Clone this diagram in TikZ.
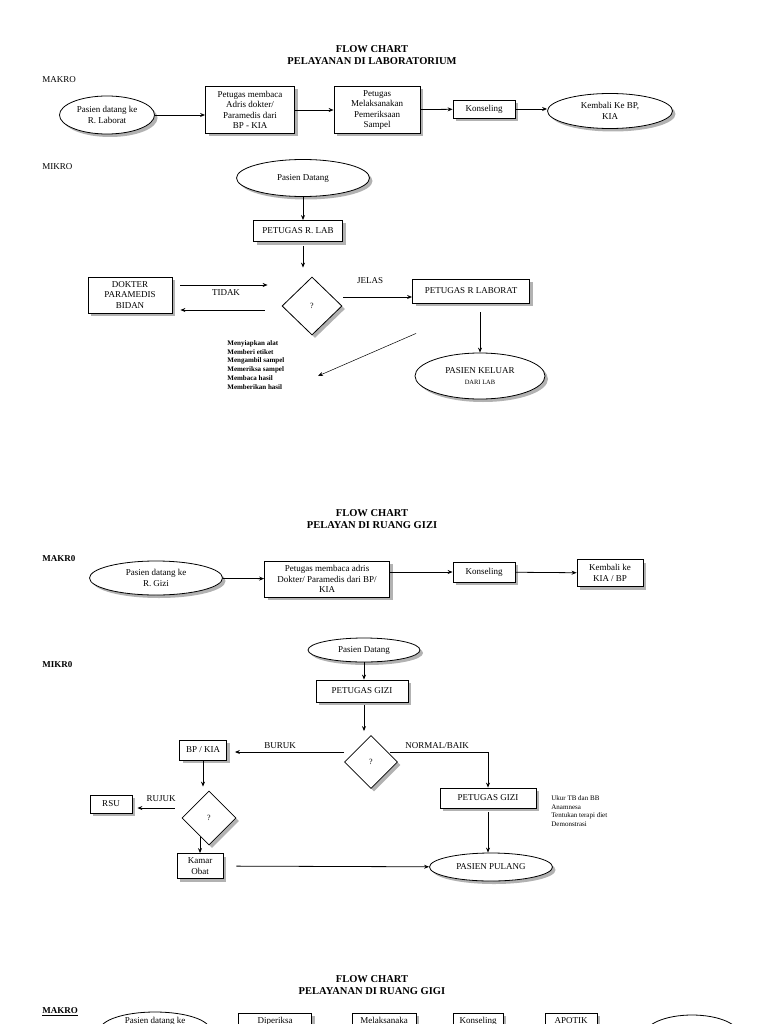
\documentclass[tikz,border=0pt]{standalone}
\usepackage{fontspec}
\setmainfont{Liberation Serif}
\usepackage{tikz}
\usetikzlibrary{shapes.geometric,shadows,arrows.meta,calc}

\newcommand{\boxfont}{\fontsize{9}{10.3}\selectfont}
\newcommand{\headfont}{\fontsize{10.5}{12}\selectfont\bfseries}
\newcommand{\notefont}{\fontsize{7}{8.8}\selectfont}

\tikzset{
  procbox/.style={draw, rectangle, fill=white, align=center, font=\boxfont, inner sep=1pt,
    drop shadow={shadow xshift=3pt, shadow yshift=-3pt, fill=black!30, opacity=1}},
  termbox/.style={draw, ellipse, fill=white, align=center, font=\boxfont, inner sep=0pt,
    drop shadow={shadow xshift=3pt, shadow yshift=-3pt, fill=black!30, opacity=1}},
  decbox/.style={draw, diamond, fill=white, inner sep=0pt, font=\fontsize{8}{8}\selectfont,
    drop shadow={shadow xshift=3pt, shadow yshift=-3pt, fill=black!30, opacity=1}},
  head/.style={align=center, font=\headfont, inner sep=0pt},
  txt/.style={font=\boxfont, inner sep=0pt},
  flow/.style={-{Stealth[length=5pt,width=4pt]}},
}

\begin{document}
\begin{tikzpicture}[x=1pt,y=-1pt,line width=0.8pt]
        \useasboundingbox (0,0) rectangle (768,1024);
        \clip (0,0) rectangle (768,1024);

        % Laboratorium: makro
        \node[head] (labTitle) at (372,55) {FLOW CHART\\PELAYANAN DI LABORATORIUM};
        \node[txt, anchor=west] (labMakro) at (42,80) {MAKRO};
        \node[termbox, minimum width=95pt, minimum height=38pt] (labDatang) at (107,115) {Pasien datang ke\\R. Laborat};
        \node[procbox, minimum width=89pt, minimum height=47pt] (labAdris) at (250,110) {Petugas membaca\\Adris dokter/\\Paramedis dari\\BP - KIA};
        \node[procbox, minimum width=86pt, minimum height=47pt] (labPeriksa) at (377,110) {Petugas\\Melaksanakan\\Pemeriksaan\\Sampel};
        \node[procbox, minimum width=62pt, minimum height=18pt] (labKonsel) at (484,109) {Konseling};
        \node[termbox, minimum width=125pt, minimum height=35pt] (labKembali) at (610,111) {Kembali Ke BP,\\KIA};

        \draw[flow] (labDatang.east) -- (labDatang.east -| labAdris.west);
        \draw[flow] (labAdris) -- (labPeriksa);
        \draw[flow] (labPeriksa) -- (labKonsel);
        \draw[flow] (labKonsel.east) -- (labKonsel.east -| labKembali.west);

        % Laboratorium: mikro
        \node[txt, anchor=west] (labMikro) at (42,167) {MIKRO};
        \node[termbox, minimum width=133pt, minimum height=37pt] (labPasien) at (303,178) {Pasien Datang};
        \node[procbox, minimum width=89pt, minimum height=21pt] (labPetugas) at (298,231) {PETUGAS R. LAB};
        \node[decbox, minimum width=60pt, minimum height=58pt] (labCek) at (312,306) {?};
        \node[procbox, minimum width=117pt, minimum height=24pt] (labLaborat) at (471,291) {PETUGAS R LABORAT};
        \node[termbox, minimum width=130pt, minimum height=46pt] (labKeluar) at (480,376) {PASIEN KELUAR\\{\fontsize{6.5}{8}\selectfont DARI LAB}};
        \node[procbox, minimum width=84pt, minimum height=36pt] (labDokter) at (130,295) {DOKTER\\PARAMEDIS\\BIDAN};
        \node[txt, font=\notefont\bfseries, align=left, anchor=north west] (labTugas) at (227,340) {Menyiapkan alat\\Memberi etiket\\Mengambil sampel\\Memeriksa sampel\\Membaca hasil\\Memberikan hasil};
        \node[txt] (labJelas) at (370,281) {JELAS};
        \node[txt] (labTidak) at (226,293) {TIDAK};

        \draw[flow] (labPasien.south) -- (labPasien.south |- labPetugas.north);
        \draw[flow, shorten <=4pt, shorten >=9pt] (labPetugas.south -| labPasien) -- (labCek.north -| labPasien);
        \coordinate (jelasA) at ($(labCek.east)+(1,-9)$);
        \draw[flow] (jelasA) -- (jelasA -| labLaborat.west);
        \draw[flow, shorten <=9pt] (labLaborat.south -| labKeluar) -- (labKeluar.north);
        \coordinate (tidakA) at ($(labDokter.east)+(8,-10)$);
        \coordinate (tidakB) at ($(labCek.west)+(-14,-21)$);
        \coordinate (tidakC) at ($(labCek.west)+(-17,4)$);
        \draw[flow] (tidakA) -- (tidakA -| tidakB);
        \draw[flow] (tidakC) -- (tidakC -| tidakA);
        \coordinate (tugasA) at ($(labLaborat.south west)+(4,30)$);
        \coordinate (tugasB) at (318,376);
        \draw[flow, line width=0.5pt] (tugasA) -- (tugasB);

        % Ruang gizi: makro
        \node[head] (giziTitle) at (372,519.5) {FLOW CHART\\PELAYAN DI RUANG GIZI};
        \node[txt, anchor=west, font=\boxfont\bfseries] (giziMakro) at (42,559) {MAKR0};
        \node[termbox, minimum width=133pt, minimum height=34pt] (giziDatang) at (156,578) {Pasien datang ke\\R. Gizi};
        \node[procbox, minimum width=125pt, minimum height=36pt] (giziAdris) at (327,579) {Petugas membaca adris\\Dokter/ Paramedis dari BP/\\KIA};
        \node[procbox, minimum width=62pt, minimum height=20pt] (giziKonsel) at (484,572) {Konseling};
        \node[procbox, minimum width=66pt, minimum height=27pt] (giziKembali) at (610,573) {Kembali ke\\KIA / BP};

        \draw[flow] (giziDatang) -- (giziAdris);
        \draw[flow] (giziAdris.east |- giziKonsel) -- (giziKonsel.west);
        \draw[flow] (giziKonsel) -- (giziKembali);

        % Ruang gizi: mikro
        \node[txt, anchor=west, font=\boxfont\bfseries] (giziMikro) at (42,665) {MIKR0};
        \node[termbox, minimum width=112pt, minimum height=24pt] (giziPasien) at (364,650) {Pasien Datang};
        \node[procbox, minimum width=92pt, minimum height=22pt] (giziPetugas) at (362,691) {PETUGAS GIZI};
        \node[decbox, minimum width=53pt, minimum height=53pt] (giziCek) at (371,762) {?};
        \node[procbox, minimum width=47pt, minimum height=20pt] (giziBP) at (203,750) {BP / KIA};
        \node[procbox, minimum width=96pt, minimum height=20pt] (giziPetugasB) at (488,798) {PETUGAS GIZI};
        \node[termbox, minimum width=123pt, minimum height=28pt] (giziPulang) at (491,867) {PASIEN PULANG};
        \node[decbox, minimum width=54pt, minimum height=54pt] (giziCekB) at (209,818) {?};
        \node[procbox, minimum width=42pt, minimum height=18pt] (giziRSU) at (111,804) {RSU};
        \node[procbox, minimum width=46pt, minimum height=25pt] (giziObat) at (200,866) {Kamar\\Obat};
        \node[txt, font=\notefont, align=left, anchor=north west] (giziTugas) at (551,795) {Ukur TB dan BB\\Anamnesa\\Tentukan terapi diet\\Demonstrasi};
        \node[txt] (giziBuruk) at (280,746) {BURUK};
        \node[txt] (giziNormal) at (437,746) {NORMAL/BAIK};
        \node[txt] (giziRujuk) at (161,799) {RUJUK};

        \draw[flow] (giziPasien.south) -- (giziPasien.south |- giziPetugas.north);
        \draw[flow, shorten <=3pt, shorten >=4pt] (giziPetugas.south -| giziPasien) -- (giziCek.north -| giziPasien);
        \coordinate (burukA) at ($(giziCek.west)+(0,-10)$);
        \draw[flow, shorten >=8pt] (burukA) -- (burukA -| giziBP.east);
        \coordinate (normalA) at ($(giziCek.east)+(-8,-10)$);
        \draw[flow] (normalA) -| (giziPetugasB.north);
        \draw[flow, shorten <=4pt] (giziPetugasB.south) -- (giziPetugasB.south |- giziPulang.north);
        \draw[flow, shorten >=4pt] (giziBP.south) -- (giziBP.south |- giziCekB.north);
        \coordinate (rujukA) at ($(giziCekB.west)+(-7,-10)$);
        \draw[flow, shorten >=5pt] (rujukA) -- (rujukA -| giziRSU.east);
        \coordinate (obatA) at ($(giziCekB.south)+(-9,-8)$);
        \draw[flow] (obatA) -- (obatA |- giziObat.north);
        \draw[flow, shorten <=13pt] (giziObat) -- (giziPulang);

        % Ruang gigi: makro (cut by the page edge)
        \node[head] (gigiTitle) at (372,985) {FLOW CHART\\PELAYANAN DI RUANG GIGI};
        \node[txt, anchor=west, font=\boxfont\bfseries] (gigiMakro) at (42,1012) {\underline{MAKRO}};
        \node[termbox, minimum width=110pt, minimum height=36pt] (gigiDatang) at (155,1030) {};
        \node[txt] (gigiDatangT) at (155,1021) {Pasien datang ke};
        \node[procbox, anchor=north, minimum width=73pt, inner ysep=4pt, text depth=24pt] (gigiPeriksa) at (275,1013) {Diperiksa};
        \node[procbox, anchor=north, minimum width=64pt, inner ysep=4pt, text depth=24pt] (gigiLaksana) at (384,1013) {Melaksanaka};
        \node[procbox, anchor=north, minimum width=50pt, inner ysep=4pt, text depth=24pt] (gigiKonsel) at (478,1013) {Konseling};
        \node[procbox, anchor=north, minimum width=52pt, inner ysep=4pt, text depth=24pt] (gigiApotik) at (571,1013) {APOTIK};
        \node[termbox, minimum width=95pt, minimum height=40pt] (gigiKembali) at (692,1035) {};

\end{tikzpicture}
\end{document}
